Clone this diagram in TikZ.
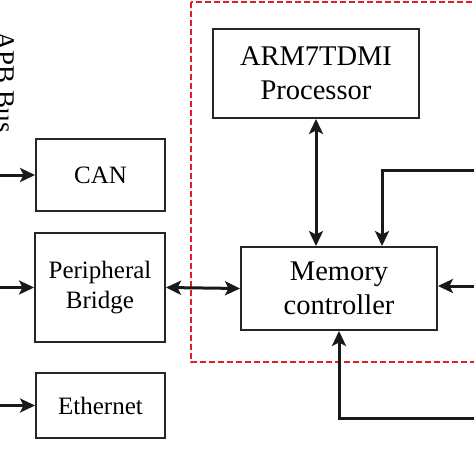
\documentclass[tikz,border=0pt]{standalone}
\usepackage{fontspec}
\setmainfont{Liberation Serif}
\usetikzlibrary{arrows.meta}
\definecolor{dashred}{RGB}{222,30,40}
\tikzset{
  blk/.style={draw=black!85, line width=1.9pt, rectangle, inner sep=0pt, align=center},
  smallblk/.style={blk, font=\fontsize{25}{30}\selectfont},
  bigblk/.style={blk, font=\fontsize{28.5}{34}\selectfont},
  tip/.style={},
  conn/.style={draw=black!90, line width=3pt, -{Stealth[length=15pt,width=14pt,inset=3.5pt]}},
  biconn/.style={draw=black!90, line width=3pt, {Stealth[length=15pt,width=14pt,inset=3.5pt]}-{Stealth[length=15pt,width=14pt,inset=3.5pt]}},
  region/.style={draw=dashred, line width=2.8pt, dash pattern=on 6pt off 3pt}
}
\begin{document}
\begin{tikzpicture}[x=1pt,y=-1pt]
\useasboundingbox (0,0) rectangle (474,474);
\clip (0,0) rectangle (474,474);
\fill[white] (0,0) rectangle (474,474);
% red dashed region
\draw[region] (191,2) rectangle (480,362);
% label
\node[rotate=-90, anchor=base, font=\fontsize{27}{30}\selectfont] (apb) at (-3,82) {APB Bus};
% blocks
\node[smallblk, minimum width=129pt, minimum height=72pt] (can) at (100.5,175) {CAN};
\node[smallblk, minimum width=130pt, minimum height=109pt] (pb) at (100,287.5) {Peripheral\\Bridge};
\node[smallblk, minimum width=129pt, minimum height=65pt] (eth) at (100.5,405.5) {Ethernet};
\node[bigblk, minimum width=206pt, minimum height=89pt] (arm) at (316,73.5) {ARM7TDMI\\Processor};
\node[bigblk, minimum width=196pt, minimum height=83pt] (mem) at (339,288.5) {Memory\\controller};
% free ends
\coordinate (cin) at (0,175);
\coordinate (pin) at (0,287.5);
\coordinate (ein) at (0,405.5);
\coordinate (topin) at (478,170);
\coordinate (topturn) at (382,170);
\coordinate (rin) at (478,286);
\coordinate (botin) at (478,418);
\coordinate (botturn) at (339,418);
% connectors
\draw[conn] (cin) -- (can.west);
\draw[conn] (pin) -- (pb.west);
\draw[conn] (ein) -- (eth.west);
\draw[biconn] (pb.east) -- (mem.west);
\draw[biconn] (arm.south) -- (arm.south |- mem.north);
\draw[conn] (topin) -- (topturn) -- (topturn |- mem.north);
\draw[conn] (rin) -- (rin -| mem.east);
\draw[conn] (botin) -- (botturn) -- (mem.south);
\end{tikzpicture}
\end{document}
